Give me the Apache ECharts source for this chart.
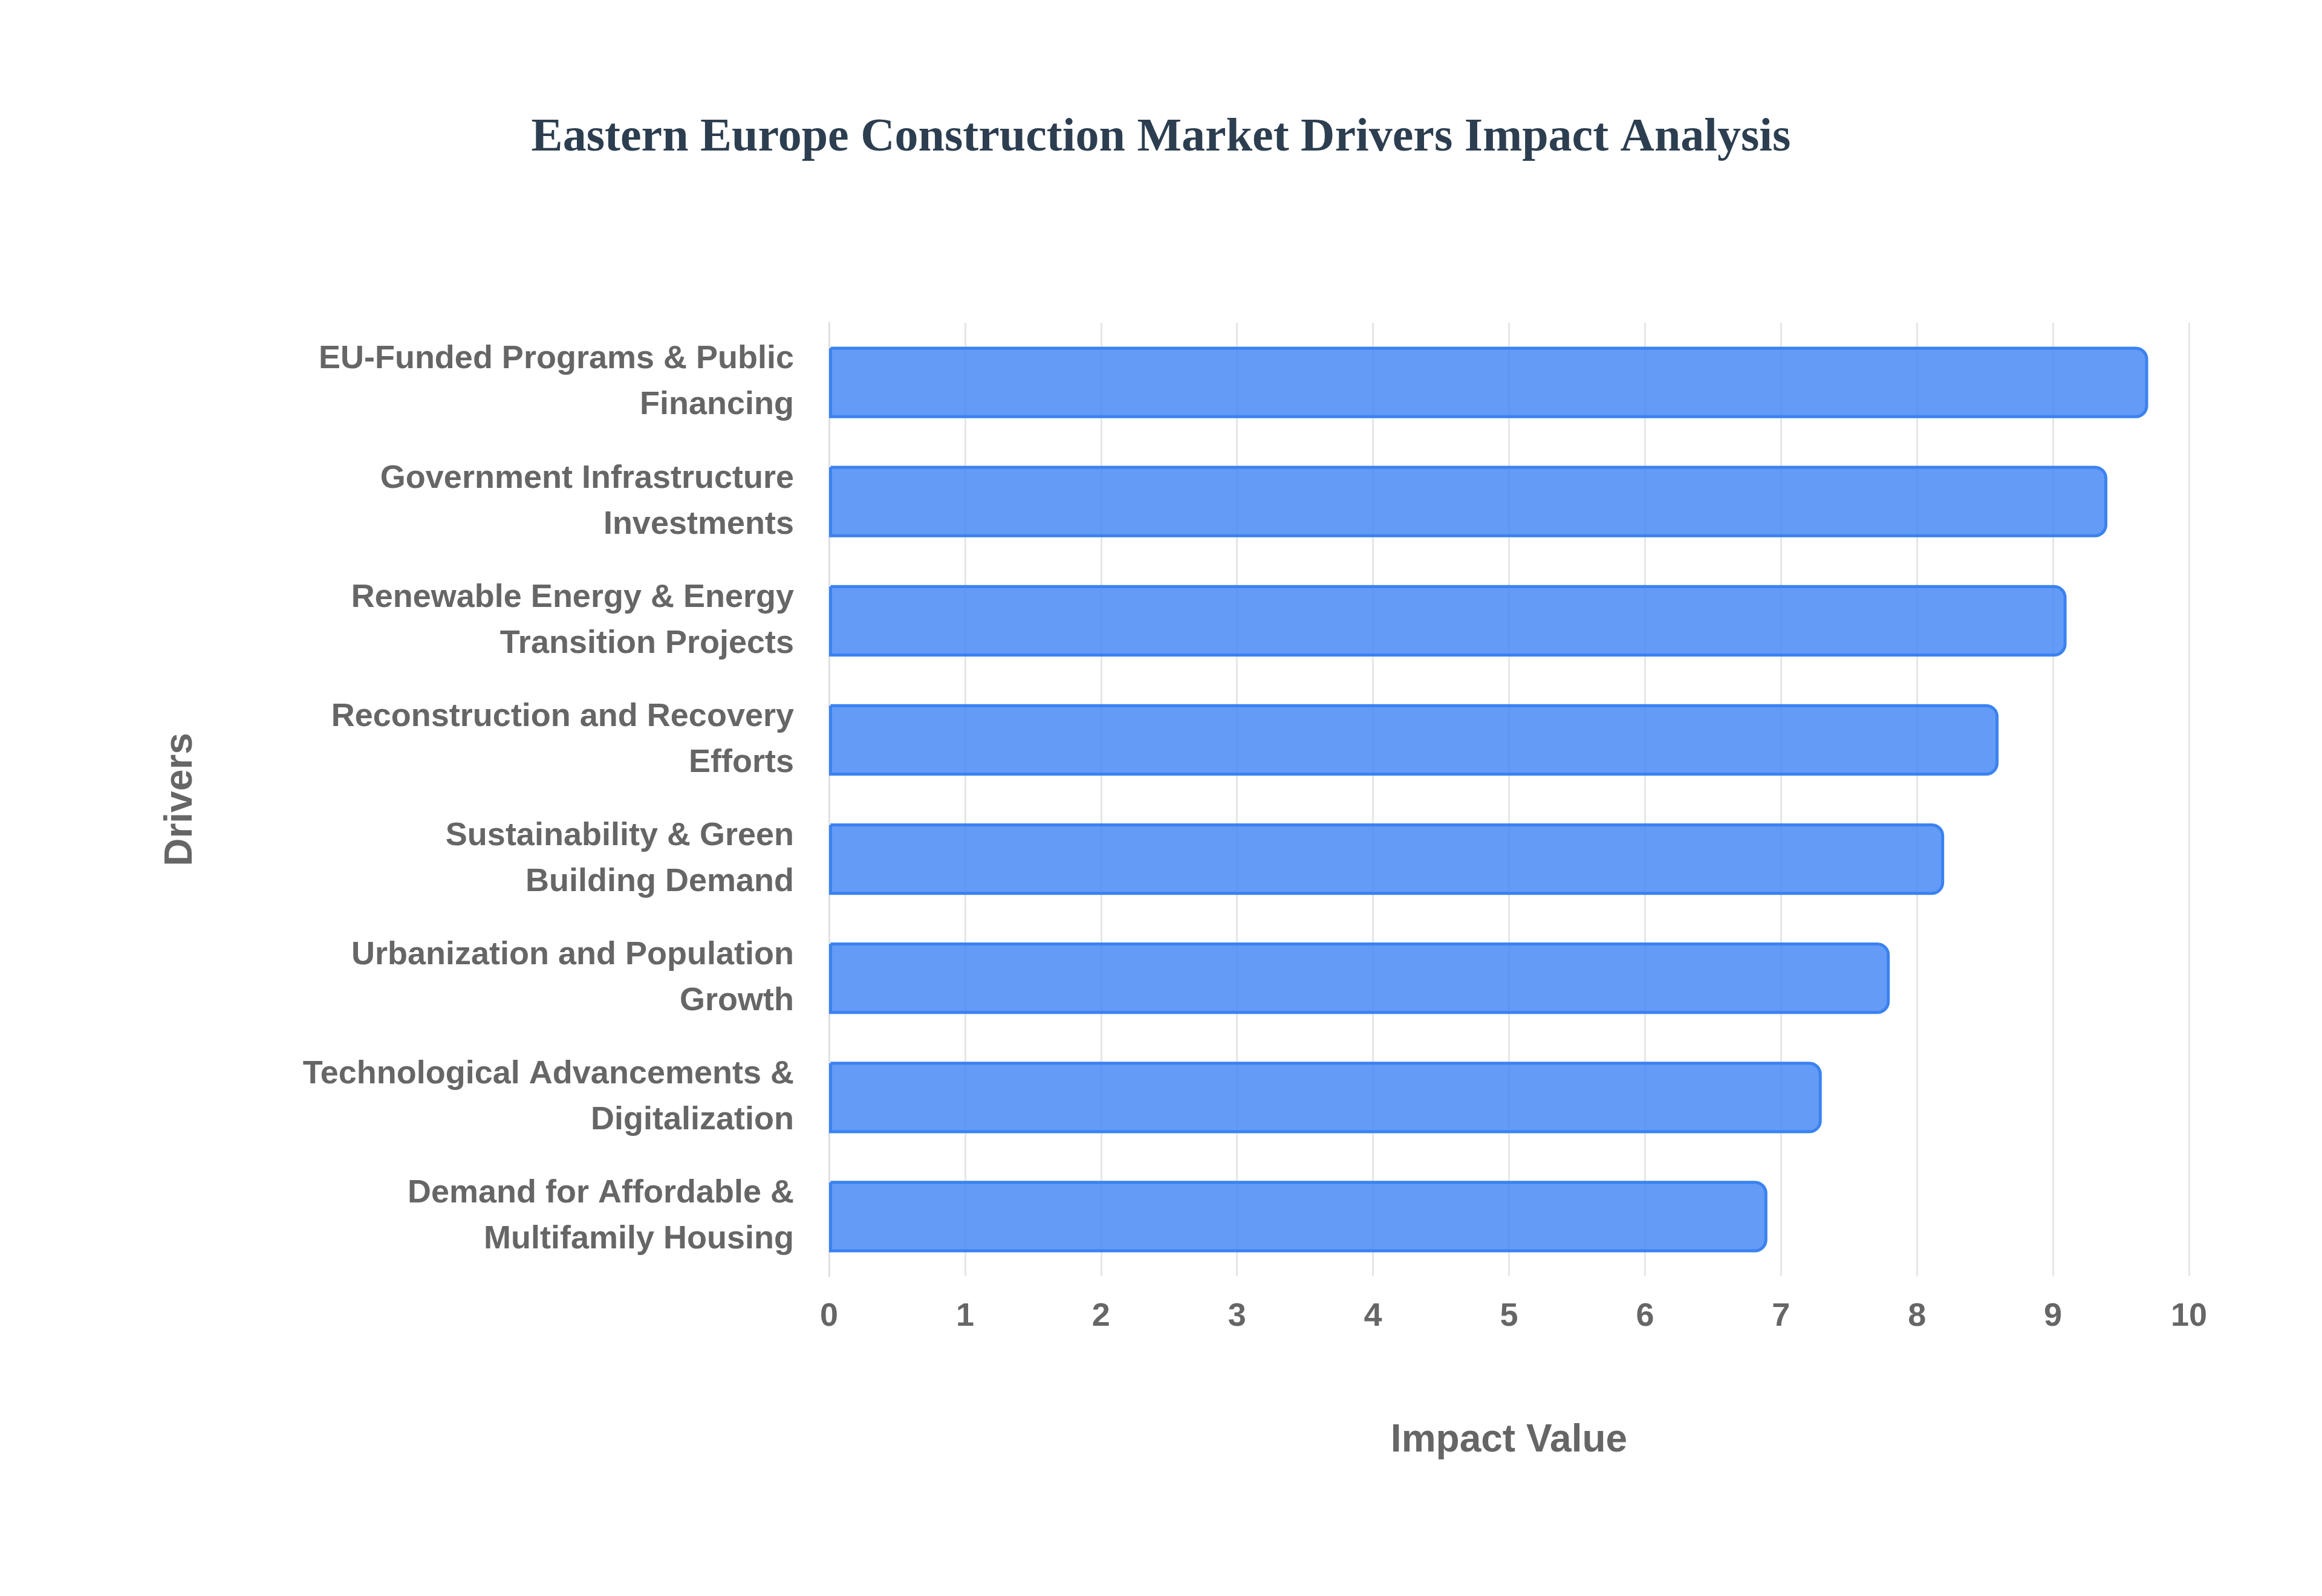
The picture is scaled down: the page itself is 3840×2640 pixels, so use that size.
<!DOCTYPE html>
<html><head><meta charset="utf-8">
<script src="https://cdn.jsdelivr.net/npm/echarts@6/dist/echarts.min.js"></script>
<style>html,body{margin:0;padding:0;background:#fff}#c{width:3840px;height:2640px}</style>
</head><body><div id="c"></div>
<script>
const categories = [
  "Demand for Affordable &\nMultifamily Housing",
  "Technological Advancements &\nDigitalization",
  "Urbanization and Population\nGrowth",
  "Sustainability & Green\nBuilding Demand",
  "Reconstruction and Recovery\nEfforts",
  "Renewable Energy & Energy\nTransition Projects",
  "Government Infrastructure\nInvestments",
  "EU-Funded Programs & Public\nFinancing"
];
const values = [6.9, 7.3, 7.8, 8.2, 8.6, 9.1, 9.4, 9.7];
const chart = echarts.init(document.getElementById('c'));
chart.setOption({
  backgroundColor: '#fff',
  title: {
    text: 'Eastern Europe Construction Market Drivers Impact Analysis',
    left: 'center', top: 185,
    textStyle: { fontFamily: 'Liberation Serif', fontWeight: 'bold', fontSize: 78, color: '#2c3e50' }
  },
  grid: { left: 1371, right: 220, top: 534, bottom: 529 },
  xAxis: {
    type: 'value', min: 0, max: 10, interval: 1,
    name: 'Impact Value', nameLocation: 'middle', nameGap: 240,
    nameTextStyle: { fontFamily: 'Liberation Sans', fontWeight: 'bold', fontSize: 64, color: '#666' },
    axisLine: { show: false }, axisTick: { show: false },
    axisLabel: { fontFamily: 'Liberation Sans', fontWeight: 'bold', fontSize: 54, color: '#666', margin: 40 },
    splitLine: { show: true, lineStyle: { color: '#e6e6e6', width: 3 } }
  },
  yAxis: {
    type: 'category', data: categories,
    name: 'Drivers', nameLocation: 'middle', nameGap: 1040, nameRotate: 90,
    nameTextStyle: { fontFamily: 'Liberation Sans', fontWeight: 'bold', fontSize: 64, color: '#666' },
    axisLine: { show: true, lineStyle: { color: '#e0e0e0', width: 3 } }, axisTick: { show: false },
    axisLabel: { fontFamily: 'Liberation Sans', fontWeight: 'bold', fontSize: 54, color: '#666', margin: 58, lineHeight: 76 }
  },
  series: [{
    type: 'bar', data: values, barWidth: '60%',
    itemStyle: { color: 'rgba(66,133,244,0.82)', borderColor: '#3b82f0', borderWidth: 5, borderRadius: [0, 18, 18, 0] }
  }]
});
</script></body></html>
